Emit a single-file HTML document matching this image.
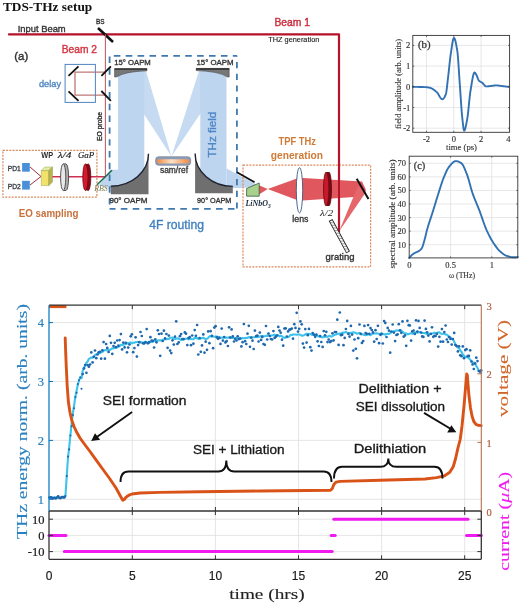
<!DOCTYPE html>
<html><head><meta charset="utf-8"><title>TDS-THz setup</title>
<style>html,body{margin:0;padding:0;background:#fff;} svg{display:block;filter:blur(0.3px);}</style></head>
<body><svg width="520" height="605" viewBox="0 0 520 605">
<rect width="520" height="605" fill="#fff"/>
<polygon points="116.00,71.00 146.00,71.00 171.50,156.50" fill="#c6dbf1"/>
<polygon points="199.00,71.00 229.00,71.00 171.50,156.50" fill="#c6dbf1"/>
<rect x="118.1" y="70" width="26.2" height="120" fill="#bdd5ee"/>
<rect x="200.3" y="70" width="26.2" height="120" fill="#bdd5ee"/>
<polygon points="118.10,169.80 118.10,188.00 110.00,188.00 99.00,185.50 110.00,169.80" fill="#bdd5ee"/>
<polygon points="226.50,160.00 226.50,188.00 240.00,188.00 256.00,187.00 256.50,184.50 226.50,168.50" fill="#bdd5ee"/>
<path d="M148.5,153.8 A37.7,32.4 0 0 1 110.8,186.2 L110.8,194.2 L148.5,194.2 Z" fill="#6f6f6f"/>
<path d="M148.5,153.8 A37.7,32.4 0 0 1 110.8,186.2" fill="none" stroke="#1e2230" stroke-width="1.4"/>
<path d="M195.1,153.5 A37.7,32.9 0 0 0 232.8,186.4 L232.8,193.2 L195.1,193.2 Z" fill="#6f6f6f"/>
<path d="M195.1,153.5 A37.7,32.9 0 0 0 232.8,186.4" fill="none" stroke="#1e2230" stroke-width="1.4"/>
<path d="M114.6,68.6 L147,68.6 L147,70.8 Q125,71.5 116.5,77 L114.6,77 Z" fill="#777" stroke="#333" stroke-width="0.5"/>
<line x1="114.60" y1="69.20" x2="147.00" y2="69.20" stroke="#2a2a2a" stroke-width="1.3"/>
<path d="M196.2,68.4 L229.2,68.4 L229.2,77 L227.5,77 Q219,71.3 196.2,70.6 Z" fill="#777" stroke="#333" stroke-width="0.5"/>
<line x1="196.20" y1="69.00" x2="229.20" y2="69.00" stroke="#2a2a2a" stroke-width="1.3"/>
<defs><linearGradient id="og" x1="0" x2="1" y1="0" y2="0"><stop offset="0" stop-color="#f08a40"/><stop offset="0.45" stop-color="#ffe2c8"/><stop offset="1" stop-color="#f08a40"/></linearGradient></defs>
<rect x="155.6" y="156.7" width="35.1" height="8.6" rx="3" fill="#8d9db5" stroke="#6a7890" stroke-width="0.6"/>
<rect x="157" y="159.2" width="32.3" height="4.2" rx="1.8" fill="url(#og)"/>
<text x="160.00" y="173.40" font-size="8.5" fill="#333" font-family='"Liberation Sans", Arial, sans-serif' stroke="#333" stroke-width="0.3" textLength="28" lengthAdjust="spacingAndGlyphs">sam/ref</text>
<line x1="109.60" y1="55.80" x2="236.90" y2="55.80" stroke="#3f79ad" stroke-width="1.8" stroke-dasharray="6.6 5.3" stroke-dashoffset="7.7"/>
<line x1="109.60" y1="208.80" x2="236.90" y2="208.80" stroke="#3f79ad" stroke-width="1.8" stroke-dasharray="6.6 5.3" stroke-dashoffset="0.7"/>
<line x1="109.60" y1="55.80" x2="109.60" y2="208.80" stroke="#3f79ad" stroke-width="1.8" stroke-dasharray="6.4 5.4" stroke-dashoffset="11"/>
<line x1="236.90" y1="55.80" x2="236.90" y2="208.80" stroke="#3f79ad" stroke-width="1.8" stroke-dasharray="6.2 5.5" stroke-dashoffset="5.5"/>
<text x="114.20" y="65.00" font-size="7.8" fill="#333" font-family='"Liberation Sans", Arial, sans-serif' stroke="#333" stroke-width="0.328" textLength="36.6" lengthAdjust="spacingAndGlyphs">15° OAPM</text>
<text x="196.50" y="65.00" font-size="7.8" fill="#333" font-family='"Liberation Sans", Arial, sans-serif' stroke="#333" stroke-width="0.328" textLength="37" lengthAdjust="spacingAndGlyphs">15° OAPM</text>
<text x="109.40" y="203.40" font-size="7.8" fill="#333" font-family='"Liberation Sans", Arial, sans-serif' stroke="#333" stroke-width="0.328" textLength="38.2" lengthAdjust="spacingAndGlyphs">90° OAPM</text>
<text x="197.10" y="203.30" font-size="7.8" fill="#333" font-family='"Liberation Sans", Arial, sans-serif' stroke="#333" stroke-width="0.328" textLength="34.3" lengthAdjust="spacingAndGlyphs">90° OAPM</text>
<text x="149.20" y="228.50" font-size="12.5" fill="#3f7fc0" font-family='"Liberation Sans", Arial, sans-serif' stroke="#3f7fc0" stroke-width="0.33" textLength="54.8" lengthAdjust="spacingAndGlyphs">4F routing</text>
<text x="216.00" y="157.50" font-size="11" fill="#4f86c6" font-family='"Liberation Sans", Arial, sans-serif' stroke="#4f86c6" stroke-width="0.33" textLength="45.7" lengthAdjust="spacingAndGlyphs" transform="rotate(-90 216.00 157.50)">THz field</text>
<polyline points="9.00,34.40 339.00,34.40 339.00,231.50" fill="none" stroke="#b5122b" stroke-width="2.2" stroke-linejoin="round" stroke-linecap="round" stroke-linecap="butt"/>
<text x="17.70" y="31.60" font-size="9" fill="#333" font-family='"Liberation Sans", Arial, sans-serif' stroke="#333" stroke-width="0.33" textLength="48" lengthAdjust="spacingAndGlyphs">Input Beam</text>
<text x="96.10" y="23.60" font-size="7.6" fill="#2a2a2a" font-family='"Liberation Sans", Arial, sans-serif' stroke="#2a2a2a" stroke-width="0.319" textLength="8.5" lengthAdjust="spacingAndGlyphs">BS</text>
<line x1="98.00" y1="28.00" x2="113.00" y2="42.00" stroke="#111" stroke-width="2.6"/>
<text x="61.80" y="53.00" font-size="10.5" fill="#d63844" font-family='"Liberation Sans", Arial, sans-serif' stroke="#d63844" stroke-width="0.42" textLength="35.2" lengthAdjust="spacingAndGlyphs">Beam 2</text>
<text x="274.50" y="26.30" font-size="10.5" fill="#cc3040" font-family='"Liberation Sans", Arial, sans-serif' stroke="#cc3040" stroke-width="0.42" textLength="35.5" lengthAdjust="spacingAndGlyphs">Beam 1</text>
<text x="268.30" y="41.70" font-size="7" fill="#1a1a1a" font-family='"Liberation Sans", Arial, sans-serif' stroke="#1a1a1a" stroke-width="0.12" textLength="51" lengthAdjust="spacingAndGlyphs">THZ generation</text>
<text x="14.30" y="59.60" font-size="11.5" fill="#333" font-family='"Liberation Sans", Arial, sans-serif' stroke="#333" stroke-width="0.42" textLength="13.9" lengthAdjust="spacingAndGlyphs">(a)</text>
<text x="2.90" y="11.20" font-size="13.4" fill="#111" font-family='"Liberation Serif", "Times New Roman", serif' font-weight="bold" textLength="89.4" lengthAdjust="spacingAndGlyphs">TDS-THz setup</text>
<line x1="105.40" y1="34.40" x2="105.40" y2="177.00" stroke="#c0606a" stroke-width="1.1"/>
<path d="M105.4,72.2 H75 V95.1 H105.4" fill="none" stroke="#c07878" stroke-width="1.3"/>
<rect x="65.1" y="64.4" width="30.3" height="38" fill="none" stroke="#4f86c0" stroke-width="1"/>
<text x="39.00" y="87.00" font-size="9" fill="#4f86c0" font-family='"Liberation Sans", Arial, sans-serif' stroke="#4f86c0" stroke-width="0.33" textLength="22" lengthAdjust="spacingAndGlyphs">delay</text>
<line x1="68.50" y1="75.90" x2="78.50" y2="66.40" stroke="#111" stroke-width="1.8"/>
<line x1="68.50" y1="91.30" x2="78.50" y2="100.80" stroke="#111" stroke-width="1.8"/>
<line x1="101.40" y1="75.90" x2="110.90" y2="66.40" stroke="#111" stroke-width="1.8"/>
<line x1="101.40" y1="91.00" x2="110.90" y2="100.80" stroke="#111" stroke-width="1.8"/>
<text x="101.60" y="140.90" font-size="6.5" fill="#222" font-family='"Liberation Sans", Arial, sans-serif' stroke="#222" stroke-width="0.273" textLength="29" lengthAdjust="spacingAndGlyphs" transform="rotate(-90 101.60 140.90)">EO probe</text>
<rect x="2.9" y="150.4" width="94" height="46.8" fill="none" stroke="#d88a60" stroke-width="1.2" stroke-dasharray="2 1.2"/>
<text x="18.70" y="217.00" font-size="10.2" fill="#c8703a" font-family='"Liberation Sans", Arial, sans-serif' font-weight="bold" textLength="59.8" lengthAdjust="spacingAndGlyphs">EO sampling</text>
<line x1="30.00" y1="167.00" x2="41.00" y2="176.50" stroke="#a03040" stroke-width="1"/>
<line x1="30.00" y1="185.00" x2="41.00" y2="176.50" stroke="#a03040" stroke-width="1"/>
<line x1="52.00" y1="176.80" x2="105.40" y2="176.80" stroke="#d03050" stroke-width="1.4"/>
<rect x="22.1" y="163" width="7.7" height="8.7" fill="#4a90d9"/>
<rect x="22.1" y="180.8" width="7.7" height="8.8" fill="#4a90d9"/>
<text x="7.70" y="170.50" font-size="7.5" fill="#3a4048" font-family='"Liberation Sans", Arial, sans-serif' stroke="#3a4048" stroke-width="0.35" textLength="13" lengthAdjust="spacingAndGlyphs">PD1</text>
<text x="7.70" y="188.50" font-size="7.5" fill="#3a4048" font-family='"Liberation Sans", Arial, sans-serif' stroke="#3a4048" stroke-width="0.35" textLength="13" lengthAdjust="spacingAndGlyphs">PD2</text>
<path d="M41.3,170.6 L48.8,170.6 L48.8,185.6 L41.3,185.6 Z" fill="#f2e26a" stroke="#8a8a40" stroke-width="0.4"/>
<path d="M41.3,170.6 L44.8,167 L52.5,167 L48.8,170.6 Z" fill="#e4eea0" stroke="#8a8a40" stroke-width="0.4"/>
<path d="M48.8,170.6 L52.5,167 L52.5,182 L48.8,185.6 Z" fill="#b9b450" stroke="#8a8a40" stroke-width="0.4"/>
<text x="41.30" y="158.30" font-size="8.5" fill="#2a2a2a" font-family='"Liberation Sans", Arial, sans-serif' font-weight="bold" textLength="11.8" lengthAdjust="spacingAndGlyphs">WP</text>
<ellipse cx="66" cy="177.2" rx="2.6" ry="13.3" fill="#b0b0b0" stroke="#444" stroke-width="0.9"/>
<rect x="63.2" y="163.9" width="2.8" height="26.6" fill="#b0b0b0"/>
<line x1="63.2" y1="163.9" x2="66" y2="163.9" stroke="#444" stroke-width="0.9"/><line x1="63.2" y1="190.5" x2="66" y2="190.5" stroke="#444" stroke-width="0.9"/>
<ellipse cx="63.2" cy="177.2" rx="2.6" ry="13.3" fill="#e8e8e8" stroke="#444" stroke-width="0.9"/>
<text x="57.70" y="158.00" font-size="8.5" fill="#222" font-family='"Liberation Serif", "Times New Roman", serif' stroke="#222" stroke-width="0.15" font-style="italic" textLength="13.8" lengthAdjust="spacingAndGlyphs">λ/4</text>
<ellipse cx="88.2" cy="177.2" rx="2.6" ry="13.3" fill="#8a0a18" stroke="#600810" stroke-width="0.8"/>
<rect x="85.4" y="163.9" width="2.8" height="26.6" fill="#8a0a18"/>
<ellipse cx="85.4" cy="177.2" rx="2.6" ry="13.3" fill="#d41a2e" stroke="#700810" stroke-width="0.8"/>
<text x="77.90" y="158.00" font-size="8.5" fill="#222" font-family='"Liberation Serif", "Times New Roman", serif' stroke="#222" stroke-width="0.15" font-style="italic" textLength="16.3" lengthAdjust="spacingAndGlyphs">GaP</text>
<line x1="97.10" y1="184.70" x2="112.00" y2="170.20" stroke="#1f6f4f" stroke-width="1.6"/>
<text x="94.20" y="190.90" font-size="7.5" fill="#7a7a50" font-family='"Liberation Serif", "Times New Roman", serif' font-style="italic" textLength="13.6" lengthAdjust="spacingAndGlyphs">RBS</text>
<rect x="243" y="165.2" width="127.6" height="101.7" fill="none" stroke="#dd8a5c" stroke-width="1.2" stroke-dasharray="2 1.2"/>
<text x="278.50" y="145.00" font-size="10.5" fill="#cf7a36" font-family='"Liberation Sans", Arial, sans-serif' font-weight="bold" textLength="37.5" lengthAdjust="spacingAndGlyphs">TPF THz</text>
<text x="270.80" y="158.50" font-size="10.5" fill="#cf7a36" font-family='"Liberation Sans", Arial, sans-serif' font-weight="bold" textLength="52.2" lengthAdjust="spacingAndGlyphs">generation</text>
<polygon points="259.00,185.20 267.70,189.00 259.00,194.50" fill="#e0585e"/>
<polygon points="267.70,189.00 299.00,177.70 299.00,200.80" fill="#e0585e"/>
<polygon points="299.00,177.70 362.00,181.50 366.00,190.00 362.00,196.50 299.00,200.80" fill="#e0585e"/>
<polygon points="358.00,186.00 366.00,192.00 339.00,231.50" fill="#e5666b"/>
<ellipse cx="299.5" cy="190.3" rx="3.2" ry="22.6" fill="#fff" stroke="#3a5a80" stroke-width="0.9"/>
<text x="292.30" y="222.30" font-size="9" fill="#333" font-family='"Liberation Sans", Arial, sans-serif' stroke="#333" stroke-width="0.33" textLength="16.2" lengthAdjust="spacingAndGlyphs">lens</text>
<ellipse cx="328.8" cy="189" rx="2.7" ry="17" fill="#7a0a14" stroke="#5a0810" stroke-width="0.8"/>
<rect x="326.2" y="172" width="2.6" height="34" fill="#7a0a14"/>
<ellipse cx="326.2" cy="189" rx="2.7" ry="17" fill="#c8182a" stroke="#6a0810" stroke-width="0.8"/>
<text x="320.00" y="216.30" font-size="8" fill="#222" font-family='"Liberation Serif", "Times New Roman", serif' font-style="italic" textLength="13" lengthAdjust="spacingAndGlyphs">λ/2</text>
<line x1="339.00" y1="34.40" x2="339.00" y2="231.50" stroke="#b5122b" stroke-width="2"/>
<line x1="356.70" y1="178.70" x2="368.50" y2="199.10" stroke="#111" stroke-width="2"/>
<g transform="rotate(61.5 339.4 236.2)"><rect x="321.5" y="234.6" width="35.8" height="3.3" fill="#fff" stroke="#222" stroke-width="0.9"/><path d="M323,237.9 L325,234.6 M326,237.9 L328,234.6 M329,237.9 L331,234.6 M332,237.9 L334,234.6 M335,237.9 L337,234.6 M338,237.9 L340,234.6 M341,237.9 L343,234.6 M344,237.9 L346,234.6 M347,237.9 L349,234.6 M350,237.9 L352,234.6 M353,237.9 L355,234.6" stroke="#555" stroke-width="0.5"/></g>
<text x="325.50" y="260.40" font-size="9" fill="#333" font-family='"Liberation Sans", Arial, sans-serif' stroke="#333" stroke-width="0.33" textLength="29" lengthAdjust="spacingAndGlyphs">grating</text>
<line x1="236.90" y1="172.30" x2="254.60" y2="182.30" stroke="#111" stroke-width="1.8"/>
<path d="M246.6,188.5 L259.2,183 L259.2,196.2 L246.6,196.2 Z" fill="#a9d18e" stroke="#3a5a40" stroke-width="0.8"/>
<text x="245.4" y="206" font-size="8" fill="#1a2a3a" font-family='"Liberation Serif", "Times New Roman", serif' font-style="italic" font-weight="bold">LiNbO<tspan font-size="5.5" dy="1.8">3</tspan></text>
<line x1="426.50" y1="35.40" x2="426.50" y2="132.30" stroke="#dedede" stroke-width="0.7"/>
<line x1="453.80" y1="35.40" x2="453.80" y2="132.30" stroke="#dedede" stroke-width="0.7"/>
<line x1="481.10" y1="35.40" x2="481.10" y2="132.30" stroke="#dedede" stroke-width="0.7"/>
<line x1="412.80" y1="128.20" x2="509.60" y2="128.20" stroke="#dedede" stroke-width="0.7"/>
<line x1="412.80" y1="107.50" x2="509.60" y2="107.50" stroke="#dedede" stroke-width="0.7"/>
<line x1="412.80" y1="86.80" x2="509.60" y2="86.80" stroke="#dedede" stroke-width="0.7"/>
<line x1="412.80" y1="66.10" x2="509.60" y2="66.10" stroke="#dedede" stroke-width="0.7"/>
<line x1="412.80" y1="45.40" x2="509.60" y2="45.40" stroke="#dedede" stroke-width="0.7"/>
<polyline points="412.85,86.80 413.09,86.80 413.33,86.81 413.57,86.81 413.81,86.82 414.05,86.82 414.29,86.83 414.53,86.83 414.77,86.84 415.01,86.84 415.24,86.85 415.48,86.85 415.72,86.86 415.96,86.87 416.20,86.87 416.44,86.88 416.68,86.88 416.92,86.89 417.16,86.90 417.40,86.90 417.64,86.91 417.88,86.91 418.12,86.92 418.36,86.93 418.60,86.93 418.84,86.94 419.08,86.95 419.32,86.96 419.56,86.96 419.79,86.97 420.03,86.98 420.27,86.98 420.51,86.99 420.75,87.00 420.99,87.01 421.23,87.01 421.47,87.02 421.71,87.03 421.95,87.03 422.19,87.04 422.43,87.05 422.67,87.05 422.91,87.06 423.15,87.07 423.39,87.07 423.63,87.08 423.87,87.09 424.11,87.10 424.34,87.11 424.58,87.12 424.82,87.13 425.06,87.14 425.30,87.15 425.54,87.16 425.78,87.17 426.02,87.18 426.26,87.20 426.50,87.21 426.74,87.23 426.98,87.25 427.22,87.28 427.46,87.31 427.70,87.34 427.94,87.38 428.18,87.42 428.42,87.46 428.66,87.51 428.89,87.56 429.13,87.61 429.37,87.67 429.61,87.73 429.85,87.78 430.09,87.85 430.33,87.91 430.57,87.99 430.81,88.08 431.05,88.17 431.29,88.27 431.53,88.38 431.77,88.50 432.01,88.63 432.25,88.76 432.49,88.89 432.73,89.04 432.97,89.19 433.21,89.34 433.44,89.50 433.68,89.67 433.92,89.84 434.16,90.01 434.40,90.19 434.64,90.38 434.88,90.56 435.12,90.75 435.36,90.94 435.60,91.14 435.84,91.34 436.08,91.53 436.32,91.74 436.56,91.94 436.80,92.16 437.04,92.41 437.28,92.70 437.52,93.02 437.76,93.36 437.99,93.73 438.23,94.11 438.47,94.51 438.71,94.92 438.95,95.33 439.19,95.74 439.43,96.15 439.67,96.54 439.91,96.93 440.15,97.30 440.39,97.65 440.63,97.98 440.87,98.28 441.11,98.54 441.35,98.77 441.59,98.95 441.83,99.09 442.07,99.18 442.31,99.22 442.54,99.20 442.78,99.12 443.02,98.99 443.26,98.80 443.50,98.57 443.74,98.29 443.98,97.97 444.22,97.60 444.46,97.20 444.70,96.75 444.94,96.28 445.18,95.77 445.42,95.24 445.66,94.67 445.90,94.01 446.14,92.97 446.38,91.60 446.62,89.94 446.86,88.07 447.09,86.04 447.33,83.90 447.57,81.72 447.81,79.57 448.05,77.49 448.29,75.52 448.53,73.46 448.77,71.29 449.01,69.04 449.25,66.76 449.49,64.48 449.73,62.24 449.97,60.09 450.21,58.06 450.45,56.20 450.69,54.54 450.93,52.93 451.17,51.28 451.41,49.60 451.64,47.93 451.88,46.30 452.12,44.74 452.36,43.27 452.60,41.92 452.84,40.72 453.08,39.70 453.32,38.89 453.56,38.31 453.80,38.00 454.04,37.97 454.28,38.13 454.52,38.47 454.76,38.97 455.00,39.61 455.24,40.39 455.48,41.30 455.72,42.32 455.96,43.44 456.19,44.65 456.43,45.94 456.67,47.30 456.91,48.72 457.15,50.18 457.39,51.68 457.63,53.62 457.87,56.11 458.11,59.06 458.35,62.37 458.59,65.94 458.83,69.67 459.07,73.47 459.31,77.23 459.55,80.86 459.79,84.26 460.03,87.57 460.27,91.04 460.51,94.60 460.74,98.18 460.98,101.74 461.22,105.20 461.46,108.51 461.70,111.61 461.94,114.42 462.18,116.89 462.42,119.08 462.66,121.33 462.90,123.55 463.14,125.65 463.38,127.52 463.62,129.04 463.86,130.12 464.10,130.65 464.34,130.63 464.58,130.37 464.82,129.91 465.06,129.27 465.29,128.48 465.53,127.56 465.77,126.52 466.01,125.39 466.25,124.19 466.49,122.94 466.73,121.67 466.97,120.39 467.21,119.12 467.45,117.67 467.69,115.95 467.93,114.00 468.17,111.86 468.41,109.59 468.65,107.23 468.89,104.82 469.13,102.41 469.37,100.05 469.61,97.78 469.84,95.64 470.08,93.69 470.32,91.97 470.56,90.48 470.80,89.00 471.04,87.50 471.28,85.99 471.52,84.49 471.76,83.02 472.00,81.58 472.24,80.19 472.48,78.87 472.72,77.63 472.96,76.49 473.20,75.46 473.44,74.57 473.68,73.81 473.92,73.22 474.16,72.79 474.39,72.56 474.63,72.53 474.87,72.64 475.11,72.86 475.35,73.17 475.59,73.55 475.83,73.95 476.07,74.37 476.31,74.77 476.55,75.21 476.79,75.74 477.03,76.33 477.27,76.97 477.51,77.63 477.75,78.28 477.99,78.89 478.23,79.45 478.47,79.93 478.71,80.29 478.94,80.56 479.18,80.79 479.42,81.00 479.66,81.19 479.90,81.36 480.14,81.52 480.38,81.66 480.62,81.80 480.86,81.94 481.10,82.07 481.34,82.21 481.58,82.35 481.82,82.50 482.06,82.66 482.30,82.84 482.54,83.05 482.78,83.28 483.02,83.53 483.26,83.81 483.49,84.10 483.73,84.39 483.97,84.69 484.21,84.97 484.45,85.25 484.69,85.51 484.93,85.75 485.17,85.96 485.41,86.13 485.65,86.27 485.89,86.35 486.13,86.39 486.37,86.38 486.61,86.38 486.85,86.37 487.09,86.36 487.33,86.35 487.57,86.33 487.81,86.31 488.04,86.29 488.28,86.27 488.52,86.25 488.76,86.22 489.00,86.20 489.24,86.17 489.48,86.15 489.72,86.12 489.96,86.09 490.20,86.06 490.44,86.04 490.68,86.01 490.92,85.99 491.16,85.96 491.40,85.94 491.64,85.90 491.88,85.87 492.12,85.84 492.36,85.80 492.59,85.76 492.83,85.72 493.07,85.68 493.31,85.64 493.55,85.60 493.79,85.57 494.03,85.53 494.27,85.50 494.51,85.46 494.75,85.44 494.99,85.41 495.23,85.39 495.47,85.37 495.71,85.36 495.95,85.35 496.19,85.35 496.43,85.36 496.67,85.36 496.91,85.38 497.14,85.40 497.38,85.42 497.62,85.44 497.86,85.47 498.10,85.50 498.34,85.53 498.58,85.57 498.82,85.60 499.06,85.64 499.30,85.68 499.54,85.71 499.78,85.75 500.02,85.79 500.26,85.83 500.50,85.86 500.74,85.90 500.98,85.93 501.22,85.96 501.46,85.99 501.69,86.02 501.93,86.05 502.17,86.07 502.41,86.10 502.65,86.13 502.89,86.16 503.13,86.19 503.37,86.22 503.61,86.24 503.85,86.27 504.09,86.30 504.33,86.33 504.57,86.36 504.81,86.38 505.05,86.41 505.29,86.44 505.53,86.47 505.77,86.50 506.01,86.52 506.24,86.55 506.48,86.58 506.72,86.61 506.96,86.63 507.20,86.66 507.44,86.69 507.68,86.72 507.92,86.74 508.16,86.77 508.40,86.80" fill="none" stroke="#3272b2" stroke-width="1.9" stroke-linejoin="round" stroke-linecap="round"/>
<rect x="412.8" y="35.4" width="96.80" height="96.90" fill="none" stroke="#333333" stroke-width="0.9"/>
<line x1="426.50" y1="132.30" x2="426.50" y2="130.80" stroke="#333333" stroke-width="0.7"/>
<line x1="426.50" y1="35.40" x2="426.50" y2="36.90" stroke="#333333" stroke-width="0.7"/>
<line x1="453.80" y1="132.30" x2="453.80" y2="130.80" stroke="#333333" stroke-width="0.7"/>
<line x1="453.80" y1="35.40" x2="453.80" y2="36.90" stroke="#333333" stroke-width="0.7"/>
<line x1="481.10" y1="132.30" x2="481.10" y2="130.80" stroke="#333333" stroke-width="0.7"/>
<line x1="481.10" y1="35.40" x2="481.10" y2="36.90" stroke="#333333" stroke-width="0.7"/>
<line x1="412.80" y1="128.20" x2="414.30" y2="128.20" stroke="#333333" stroke-width="0.7"/>
<line x1="509.60" y1="128.20" x2="508.10" y2="128.20" stroke="#333333" stroke-width="0.7"/>
<line x1="412.80" y1="107.50" x2="414.30" y2="107.50" stroke="#333333" stroke-width="0.7"/>
<line x1="509.60" y1="107.50" x2="508.10" y2="107.50" stroke="#333333" stroke-width="0.7"/>
<line x1="412.80" y1="86.80" x2="414.30" y2="86.80" stroke="#333333" stroke-width="0.7"/>
<line x1="509.60" y1="86.80" x2="508.10" y2="86.80" stroke="#333333" stroke-width="0.7"/>
<line x1="412.80" y1="66.10" x2="414.30" y2="66.10" stroke="#333333" stroke-width="0.7"/>
<line x1="509.60" y1="66.10" x2="508.10" y2="66.10" stroke="#333333" stroke-width="0.7"/>
<line x1="412.80" y1="45.40" x2="414.30" y2="45.40" stroke="#333333" stroke-width="0.7"/>
<line x1="509.60" y1="45.40" x2="508.10" y2="45.40" stroke="#333333" stroke-width="0.7"/>
<text x="410.30" y="48.40" font-size="8.5" fill="#333" font-family='"Liberation Serif", "Times New Roman", serif' stroke="#333" stroke-width="0.15" text-anchor="end">2</text>
<text x="410.30" y="69.10" font-size="8.5" fill="#333" font-family='"Liberation Serif", "Times New Roman", serif' stroke="#333" stroke-width="0.15" text-anchor="end">1</text>
<text x="410.30" y="89.80" font-size="8.5" fill="#333" font-family='"Liberation Serif", "Times New Roman", serif' stroke="#333" stroke-width="0.15" text-anchor="end">0</text>
<text x="410.30" y="110.50" font-size="8.5" fill="#333" font-family='"Liberation Serif", "Times New Roman", serif' stroke="#333" stroke-width="0.15" text-anchor="end">-1</text>
<text x="410.30" y="131.20" font-size="8.5" fill="#333" font-family='"Liberation Serif", "Times New Roman", serif' stroke="#333" stroke-width="0.15" text-anchor="end">-2</text>
<text x="426.50" y="142.30" font-size="8.5" fill="#333" font-family='"Liberation Serif", "Times New Roman", serif' stroke="#333" stroke-width="0.15" text-anchor="middle">-2</text>
<text x="453.80" y="142.30" font-size="8.5" fill="#333" font-family='"Liberation Serif", "Times New Roman", serif' stroke="#333" stroke-width="0.15" text-anchor="middle">0</text>
<text x="481.10" y="142.30" font-size="8.5" fill="#333" font-family='"Liberation Serif", "Times New Roman", serif' stroke="#333" stroke-width="0.15" text-anchor="middle">2</text>
<text x="508.40" y="142.30" font-size="8.5" fill="#333" font-family='"Liberation Serif", "Times New Roman", serif' stroke="#333" stroke-width="0.15" text-anchor="middle">4</text>
<text x="461.50" y="150.00" font-size="8" fill="#333" font-family='"Liberation Serif", "Times New Roman", serif' stroke="#333" stroke-width="0.12" text-anchor="middle" textLength="31" lengthAdjust="spacingAndGlyphs">time (ps)</text>
<text x="401.00" y="129.00" font-size="7.2" fill="#333" font-family='"Liberation Serif", "Times New Roman", serif' stroke="#333" stroke-width="0.12" textLength="90" lengthAdjust="spacingAndGlyphs" transform="rotate(-90 401.00 129.00)">field amplitude (arb. units)</text>
<text x="418.00" y="48.30" font-size="10" fill="#333" font-family='"Liberation Serif", "Times New Roman", serif' stroke="#333" stroke-width="0.25" textLength="12.5" lengthAdjust="spacingAndGlyphs">(b)</text>
<line x1="450.60" y1="156.20" x2="450.60" y2="257.90" stroke="#dedede" stroke-width="0.7"/>
<line x1="491.80" y1="156.20" x2="491.80" y2="257.90" stroke="#dedede" stroke-width="0.7"/>
<line x1="409.20" y1="244.73" x2="517.80" y2="244.73" stroke="#dedede" stroke-width="0.7"/>
<line x1="409.20" y1="231.16" x2="517.80" y2="231.16" stroke="#dedede" stroke-width="0.7"/>
<line x1="409.20" y1="217.59" x2="517.80" y2="217.59" stroke="#dedede" stroke-width="0.7"/>
<line x1="409.20" y1="204.02" x2="517.80" y2="204.02" stroke="#dedede" stroke-width="0.7"/>
<line x1="409.20" y1="190.45" x2="517.80" y2="190.45" stroke="#dedede" stroke-width="0.7"/>
<line x1="409.20" y1="176.88" x2="517.80" y2="176.88" stroke="#dedede" stroke-width="0.7"/>
<line x1="409.20" y1="163.31" x2="517.80" y2="163.31" stroke="#dedede" stroke-width="0.7"/>
<polyline points="409.20,257.90 409.56,257.47 409.93,257.05 410.29,256.65 410.65,256.25 411.02,255.87 411.38,255.50 411.74,255.15 412.11,254.82 412.47,254.50 412.83,254.20 413.20,253.92 413.56,253.66 413.92,253.42 414.28,253.21 414.65,253.02 415.01,252.84 415.37,252.68 415.74,252.52 416.10,252.37 416.46,252.22 416.83,252.06 417.19,251.90 417.55,251.72 417.92,251.53 418.28,251.31 418.64,251.08 419.01,250.85 419.37,250.61 419.73,250.35 420.10,250.07 420.46,249.76 420.82,249.41 421.19,249.01 421.55,248.57 421.91,248.00 422.28,247.21 422.64,246.25 423.00,245.15 423.37,243.95 423.73,242.69 424.09,241.42 424.45,240.15 424.82,238.86 425.18,237.44 425.54,235.94 425.91,234.40 426.27,232.86 426.63,231.37 427.00,229.97 427.36,228.68 427.72,227.43 428.09,226.22 428.45,225.03 428.81,223.88 429.18,222.74 429.54,221.63 429.90,220.52 430.27,219.43 430.63,218.34 430.99,217.25 431.36,216.16 431.72,215.05 432.08,213.94 432.45,212.81 432.81,211.65 433.17,210.49 433.54,209.31 433.90,208.13 434.26,206.95 434.62,205.76 434.99,204.56 435.35,203.37 435.71,202.18 436.08,200.99 436.44,199.81 436.80,198.64 437.17,197.47 437.53,196.31 437.89,195.16 438.26,194.02 438.62,192.88 438.98,191.73 439.35,190.57 439.71,189.40 440.07,188.24 440.44,187.09 440.80,185.94 441.16,184.81 441.53,183.70 441.89,182.61 442.25,181.55 442.62,180.52 442.98,179.54 443.34,178.59 443.71,177.69 444.07,176.81 444.43,175.94 444.79,175.07 445.16,174.21 445.52,173.37 445.88,172.54 446.25,171.74 446.61,170.97 446.97,170.22 447.34,169.51 447.70,168.85 448.06,168.22 448.43,167.65 448.79,167.12 449.15,166.66 449.52,166.22 449.88,165.79 450.24,165.36 450.61,164.94 450.97,164.52 451.33,164.11 451.70,163.72 452.06,163.34 452.42,162.98 452.79,162.64 453.15,162.33 453.51,162.05 453.87,161.80 454.24,161.58 454.60,161.40 454.96,161.26 455.33,161.16 455.69,161.11 456.05,161.10 456.42,161.13 456.78,161.17 457.14,161.24 457.51,161.33 457.87,161.44 458.23,161.57 458.60,161.72 458.96,161.88 459.32,162.06 459.69,162.25 460.05,162.45 460.41,162.67 460.78,162.89 461.14,163.13 461.50,163.37 461.87,163.69 462.23,164.11 462.59,164.61 462.96,165.18 463.32,165.83 463.68,166.54 464.04,167.31 464.41,168.12 464.77,168.97 465.13,169.84 465.50,170.75 465.86,171.66 466.22,172.59 466.59,173.51 466.95,174.43 467.31,175.40 467.68,176.46 468.04,177.60 468.40,178.80 468.77,180.05 469.13,181.35 469.49,182.67 469.86,184.01 470.22,185.35 470.58,186.68 470.95,188.00 471.31,189.28 471.67,190.51 472.04,191.69 472.40,192.80 472.76,193.85 473.13,194.86 473.49,195.84 473.85,196.80 474.21,197.73 474.58,198.65 474.94,199.55 475.30,200.44 475.67,201.32 476.03,202.19 476.39,203.05 476.76,203.92 477.12,204.79 477.48,205.66 477.85,206.55 478.21,207.44 478.57,208.35 478.94,209.28 479.30,210.22 479.66,211.19 480.03,212.18 480.39,213.19 480.75,214.21 481.12,215.24 481.48,216.28 481.84,217.33 482.21,218.37 482.57,219.42 482.93,220.46 483.29,221.50 483.66,222.53 484.02,223.54 484.38,224.54 484.75,225.52 485.11,226.48 485.47,227.42 485.84,228.33 486.20,229.20 486.56,230.05 486.93,230.86 487.29,231.65 487.65,232.42 488.02,233.18 488.38,233.92 488.74,234.66 489.11,235.37 489.47,236.08 489.83,236.77 490.20,237.45 490.56,238.12 490.92,238.77 491.29,239.41 491.65,240.03 492.01,240.64 492.38,241.24 492.74,241.82 493.10,242.39 493.46,242.95 493.83,243.49 494.19,244.04 494.55,244.57 494.92,245.10 495.28,245.63 495.64,246.14 496.01,246.65 496.37,247.15 496.73,247.63 497.10,248.10 497.46,248.56 497.82,249.01 498.19,249.44 498.55,249.85 498.91,250.24 499.28,250.62 499.64,250.98 500.00,251.31 500.37,251.63 500.73,251.95 501.09,252.26 501.46,252.57 501.82,252.87 502.18,253.16 502.55,253.45 502.91,253.72 503.27,253.99 503.63,254.25 504.00,254.49 504.36,254.72 504.72,254.94 505.09,255.15 505.45,255.34 505.81,255.51 506.18,255.67 506.54,255.81 506.90,255.93 507.27,256.05 507.63,256.17 507.99,256.28 508.36,256.39 508.72,256.50 509.08,256.60 509.45,256.70 509.81,256.79 510.17,256.88 510.54,256.96 510.90,257.04 511.26,257.11 511.63,257.16 511.99,257.21 512.35,257.25 512.72,257.28 513.08,257.30 513.44,257.30 513.80,257.30 514.17,257.30 514.53,257.29 514.89,257.28 515.26,257.27 515.62,257.25 515.98,257.22 516.35,257.19 516.71,257.16 517.07,257.11 517.44,257.06 517.80,257.00" fill="none" stroke="#3272b2" stroke-width="1.9" stroke-linejoin="round" stroke-linecap="round"/>
<rect x="409.2" y="156.2" width="108.60" height="101.70" fill="none" stroke="#333333" stroke-width="0.9"/>
<line x1="450.60" y1="257.90" x2="450.60" y2="256.40" stroke="#333333" stroke-width="0.7"/>
<line x1="450.60" y1="156.20" x2="450.60" y2="157.70" stroke="#333333" stroke-width="0.7"/>
<line x1="491.80" y1="257.90" x2="491.80" y2="256.40" stroke="#333333" stroke-width="0.7"/>
<line x1="491.80" y1="156.20" x2="491.80" y2="157.70" stroke="#333333" stroke-width="0.7"/>
<line x1="409.20" y1="244.73" x2="410.70" y2="244.73" stroke="#333333" stroke-width="0.7"/>
<line x1="517.80" y1="244.73" x2="516.30" y2="244.73" stroke="#333333" stroke-width="0.7"/>
<text x="406.00" y="247.73" font-size="8.5" fill="#333" font-family='"Liberation Serif", "Times New Roman", serif' stroke="#333" stroke-width="0.15" text-anchor="end">10</text>
<line x1="409.20" y1="231.16" x2="410.70" y2="231.16" stroke="#333333" stroke-width="0.7"/>
<line x1="517.80" y1="231.16" x2="516.30" y2="231.16" stroke="#333333" stroke-width="0.7"/>
<text x="406.00" y="234.16" font-size="8.5" fill="#333" font-family='"Liberation Serif", "Times New Roman", serif' stroke="#333" stroke-width="0.15" text-anchor="end">20</text>
<line x1="409.20" y1="217.59" x2="410.70" y2="217.59" stroke="#333333" stroke-width="0.7"/>
<line x1="517.80" y1="217.59" x2="516.30" y2="217.59" stroke="#333333" stroke-width="0.7"/>
<text x="406.00" y="220.59" font-size="8.5" fill="#333" font-family='"Liberation Serif", "Times New Roman", serif' stroke="#333" stroke-width="0.15" text-anchor="end">30</text>
<line x1="409.20" y1="204.02" x2="410.70" y2="204.02" stroke="#333333" stroke-width="0.7"/>
<line x1="517.80" y1="204.02" x2="516.30" y2="204.02" stroke="#333333" stroke-width="0.7"/>
<text x="406.00" y="207.02" font-size="8.5" fill="#333" font-family='"Liberation Serif", "Times New Roman", serif' stroke="#333" stroke-width="0.15" text-anchor="end">40</text>
<line x1="409.20" y1="190.45" x2="410.70" y2="190.45" stroke="#333333" stroke-width="0.7"/>
<line x1="517.80" y1="190.45" x2="516.30" y2="190.45" stroke="#333333" stroke-width="0.7"/>
<text x="406.00" y="193.45" font-size="8.5" fill="#333" font-family='"Liberation Serif", "Times New Roman", serif' stroke="#333" stroke-width="0.15" text-anchor="end">50</text>
<line x1="409.20" y1="176.88" x2="410.70" y2="176.88" stroke="#333333" stroke-width="0.7"/>
<line x1="517.80" y1="176.88" x2="516.30" y2="176.88" stroke="#333333" stroke-width="0.7"/>
<text x="406.00" y="179.88" font-size="8.5" fill="#333" font-family='"Liberation Serif", "Times New Roman", serif' stroke="#333" stroke-width="0.15" text-anchor="end">60</text>
<line x1="409.20" y1="163.31" x2="410.70" y2="163.31" stroke="#333333" stroke-width="0.7"/>
<line x1="517.80" y1="163.31" x2="516.30" y2="163.31" stroke="#333333" stroke-width="0.7"/>
<text x="406.00" y="166.31" font-size="8.5" fill="#333" font-family='"Liberation Serif", "Times New Roman", serif' stroke="#333" stroke-width="0.15" text-anchor="end">70</text>
<text x="409.40" y="268.30" font-size="8.5" fill="#333" font-family='"Liberation Serif", "Times New Roman", serif' stroke="#333" stroke-width="0.15" text-anchor="middle">0</text>
<text x="450.60" y="268.30" font-size="8.5" fill="#333" font-family='"Liberation Serif", "Times New Roman", serif' stroke="#333" stroke-width="0.15" text-anchor="middle">0.5</text>
<text x="491.80" y="268.30" font-size="8.5" fill="#333" font-family='"Liberation Serif", "Times New Roman", serif' stroke="#333" stroke-width="0.15" text-anchor="middle">1</text>
<text x="462.00" y="277.50" font-size="8" fill="#333" font-family='"Liberation Serif", "Times New Roman", serif' stroke="#333" stroke-width="0.12" text-anchor="middle" textLength="26" lengthAdjust="spacingAndGlyphs">ω (THz)</text>
<text x="395.00" y="268.50" font-size="7.2" fill="#333" font-family='"Liberation Serif", "Times New Roman", serif' stroke="#333" stroke-width="0.12" textLength="109" lengthAdjust="spacingAndGlyphs" transform="rotate(-90 395.00 268.50)">spectral amplitude (arb. units)</text>
<text x="413.70" y="169.00" font-size="10" fill="#333" font-family='"Liberation Serif", "Times New Roman", serif' stroke="#333" stroke-width="0.25" textLength="11.5" lengthAdjust="spacingAndGlyphs">(c)</text>
<line x1="132.30" y1="305.20" x2="132.30" y2="511.00" stroke="#dedede" stroke-width="0.8"/>
<line x1="132.30" y1="511.00" x2="132.30" y2="559.30" stroke="#dedede" stroke-width="0.8"/>
<line x1="215.40" y1="305.20" x2="215.40" y2="511.00" stroke="#dedede" stroke-width="0.8"/>
<line x1="215.40" y1="511.00" x2="215.40" y2="559.30" stroke="#dedede" stroke-width="0.8"/>
<line x1="298.50" y1="305.20" x2="298.50" y2="511.00" stroke="#dedede" stroke-width="0.8"/>
<line x1="298.50" y1="511.00" x2="298.50" y2="559.30" stroke="#dedede" stroke-width="0.8"/>
<line x1="381.60" y1="305.20" x2="381.60" y2="511.00" stroke="#dedede" stroke-width="0.8"/>
<line x1="381.60" y1="511.00" x2="381.60" y2="559.30" stroke="#dedede" stroke-width="0.8"/>
<line x1="464.70" y1="305.20" x2="464.70" y2="511.00" stroke="#dedede" stroke-width="0.8"/>
<line x1="464.70" y1="511.00" x2="464.70" y2="559.30" stroke="#dedede" stroke-width="0.8"/>
<line x1="49.00" y1="499.30" x2="481.30" y2="499.30" stroke="#dedede" stroke-width="0.8"/>
<line x1="49.00" y1="440.40" x2="481.30" y2="440.40" stroke="#dedede" stroke-width="0.8"/>
<line x1="49.00" y1="381.50" x2="481.30" y2="381.50" stroke="#dedede" stroke-width="0.8"/>
<line x1="49.00" y1="322.60" x2="481.30" y2="322.60" stroke="#dedede" stroke-width="0.8"/>
<line x1="49.00" y1="519.20" x2="481.30" y2="519.20" stroke="#dedede" stroke-width="0.8"/>
<line x1="49.00" y1="535.40" x2="481.30" y2="535.40" stroke="#dedede" stroke-width="0.8"/>
<line x1="49.00" y1="551.60" x2="481.30" y2="551.60" stroke="#dedede" stroke-width="0.8"/>
<polyline points="49.53,497.53 50.76,497.45 51.99,497.61 53.22,497.77 54.45,497.65 55.68,497.80 56.91,497.52 58.14,497.18 59.37,497.66 60.60,497.70 61.83,497.40 63.06,497.44 64.29,497.51 65.52,494.56 66.75,476.00 67.98,457.79 69.21,447.21 70.44,434.78 71.67,423.16 72.90,413.01 74.13,405.29 75.36,396.69 76.59,390.67 77.82,384.51 79.05,380.45 80.28,377.15 81.51,378.30 82.74,370.83 83.97,367.73 85.20,365.42 86.43,362.81 87.66,361.52 88.89,358.80 90.12,358.38 91.35,357.46 92.58,357.63 93.81,356.65 95.04,355.18 96.27,354.28 97.50,353.96 98.73,352.90 99.96,353.14 101.19,352.34 102.42,351.91 103.65,350.66 104.88,350.15 106.11,350.33 107.34,349.46 108.57,349.83 109.80,350.03 111.03,349.23 112.26,348.30 113.49,348.36 114.72,347.99 115.95,347.71 117.18,347.47 118.41,346.73 119.64,346.26 120.87,344.90 122.10,344.93 123.33,344.88 124.56,344.13 125.78,344.20 127.01,343.49 128.24,342.95 129.47,342.84 130.70,342.45 131.93,343.26 133.16,342.80 134.39,342.73 135.62,342.06 136.85,341.92 138.08,341.96 139.31,342.38 140.54,342.16 141.77,342.37 143.00,342.45 144.23,342.25 145.46,341.64 146.69,342.43 147.92,342.32 149.15,342.42 150.38,342.02 151.61,341.96 152.84,341.70 154.07,341.12 155.30,340.73 156.53,341.33 157.76,340.43 158.99,340.27 160.22,340.35 161.45,340.54 162.68,339.87 163.91,339.61 165.14,339.16 166.37,339.33 167.60,338.91 168.83,339.00 170.06,337.81 171.29,337.69 172.52,337.52 173.75,338.60 174.98,338.95 176.21,338.70 177.44,338.32 178.67,338.72 179.90,339.24 181.13,340.09 182.36,339.10 183.59,339.55 184.82,338.91 186.05,338.77 187.28,338.62 188.51,339.33 189.74,339.03 190.97,339.04 192.20,339.25 193.43,339.22 194.66,337.75 195.89,338.08 197.12,337.97 198.35,339.09 199.58,338.79 200.81,338.66 202.04,338.07 203.27,337.69 204.50,338.64 205.73,338.96 206.96,338.79 208.19,337.91 209.42,336.41 210.65,336.28 211.88,336.54 213.11,336.51 214.34,336.68 215.57,336.50 216.80,336.48 218.03,336.84 219.26,337.09 220.49,337.84 221.72,337.66 222.95,337.41 224.18,337.64 225.41,337.75 226.64,337.53 227.87,337.70 229.09,337.17 230.32,337.39 231.55,337.86 232.78,337.91 234.01,338.34 235.24,338.27 236.47,337.99 237.70,338.69 238.93,338.42 240.16,338.42 241.39,338.46 242.62,338.07 243.85,338.22 245.08,338.05 246.31,337.89 247.54,337.97 248.77,337.09 250.00,337.58 251.23,337.52 252.46,337.38 253.69,337.25 254.92,337.25 256.15,336.63 257.38,337.15 258.61,336.73 259.84,336.65 261.07,336.04 262.30,335.96 263.53,336.25 264.76,336.27 265.99,335.83 267.22,335.86 268.45,335.10 269.68,335.85 270.91,335.71 272.14,335.35 273.37,335.08 274.60,334.71 275.83,335.20 277.06,335.05 278.29,335.26 279.52,336.31 280.75,335.55 281.98,336.33 283.21,337.27 284.44,337.90 285.67,337.47 286.90,336.98 288.13,337.22 289.36,336.46 290.59,334.82 291.82,334.98 293.05,334.47 294.28,334.44 295.51,334.44 296.74,334.75 297.97,334.43 299.20,334.47 300.43,334.75 301.66,335.65 302.89,335.61 304.12,335.21 305.35,334.47 306.58,333.75 307.81,333.74 309.04,334.00 310.27,333.88 311.50,334.64 312.73,334.96 313.96,334.69 315.19,334.97 316.42,335.06 317.65,336.13 318.88,336.40 320.11,336.50 321.34,336.96 322.57,337.43 323.80,336.90 325.03,336.75 326.26,336.56 327.49,336.90 328.72,336.22 329.95,335.76 331.17,336.59 332.40,336.29 333.63,335.17 334.86,334.75 336.09,334.42 337.32,334.10 338.55,333.73 339.78,333.58 341.01,333.55 342.24,332.66 343.47,332.61 344.70,332.45 345.93,331.93 347.16,332.64 348.39,333.09 349.62,333.11 350.85,332.69 352.08,332.99 353.31,332.18 354.54,332.52 355.77,332.93 357.00,333.76 358.23,333.36 359.46,332.91 360.69,333.56 361.92,334.43 363.15,334.26 364.38,335.07 365.61,335.26 366.84,334.76 368.07,334.46 369.30,334.55 370.53,335.12 371.76,334.10 372.99,333.81 374.22,333.48 375.45,333.55 376.68,333.26 377.91,333.56 379.14,334.00 380.37,333.89 381.60,333.57 382.83,334.30 384.06,334.14 385.29,334.66 386.52,333.89 387.75,333.74 388.98,333.93 390.21,333.11 391.44,332.43 392.67,331.68 393.90,331.22 395.13,331.08 396.36,330.26 397.59,330.60 398.82,330.65 400.05,330.36 401.28,330.58 402.51,331.71 403.74,333.06 404.97,333.58 406.20,333.34 407.43,334.17 408.66,334.12 409.89,333.59 411.12,333.34 412.35,333.60 413.58,333.04 414.81,332.71 416.04,332.26 417.27,332.90 418.50,332.14 419.73,332.09 420.96,332.49 422.19,332.95 423.42,333.02 424.65,333.10 425.88,333.56 427.11,334.03 428.34,334.01 429.57,333.69 430.80,333.54 432.03,333.52 433.25,333.32 434.48,332.64 435.71,333.23 436.94,332.98 438.17,332.33 439.40,332.24 440.63,333.25 441.86,334.12 443.09,333.64 444.32,333.60 445.55,334.57 446.78,334.64 448.01,335.76 449.24,336.52 450.47,337.57 451.70,338.67 452.93,339.39 454.16,341.59 455.39,344.28 456.62,345.73 457.85,347.61 459.08,348.34 460.31,350.34 461.54,351.94 462.77,354.55 464.00,355.78 465.23,356.83 466.46,356.91 467.69,357.38 468.92,358.13 470.15,359.73 471.38,360.85 472.61,362.20 473.84,362.52 475.07,364.00 476.30,365.91 477.53,368.11 478.76,370.59 479.99,372.21 481.22,372.99" fill="none" stroke="#3ec3ec" stroke-width="2.1" stroke-linejoin="round" stroke-linecap="round"/>
<g fill="#1f68ad"><circle cx="49.5" cy="497.5" r="1.35"/><circle cx="50.8" cy="497.3" r="1.35"/><circle cx="52.0" cy="497.8" r="1.35"/><circle cx="53.2" cy="498.3" r="1.35"/><circle cx="54.5" cy="497.9" r="1.35"/><circle cx="55.7" cy="498.4" r="1.35"/><circle cx="56.9" cy="497.5" r="1.35"/><circle cx="58.1" cy="496.3" r="1.35"/><circle cx="59.4" cy="498.0" r="1.35"/><circle cx="60.6" cy="498.1" r="1.35"/><circle cx="61.8" cy="497.1" r="1.35"/><circle cx="63.1" cy="497.2" r="1.35"/><circle cx="64.3" cy="497.4" r="1.35"/><circle cx="65.5" cy="496.1" r="1.05"/><circle cx="66.8" cy="476.1" r="1.05"/><circle cx="68.0" cy="456.6" r="1.05"/><circle cx="69.2" cy="449.4" r="1.05"/><circle cx="70.4" cy="435.5" r="1.05"/><circle cx="71.7" cy="426.3" r="1.05"/><circle cx="72.9" cy="415.1" r="1.05"/><circle cx="74.1" cy="408.3" r="1.05"/><circle cx="75.4" cy="397.1" r="1.05"/><circle cx="76.6" cy="392.8" r="1.05"/><circle cx="77.8" cy="384.1" r="1.05"/><circle cx="79.0" cy="380.2" r="1.05"/><circle cx="80.3" cy="377.5" r="1.05"/><circle cx="81.5" cy="388.7" r="1.05"/><circle cx="82.7" cy="374.1" r="1.35"/><circle cx="84.0" cy="368.4" r="1.35"/><circle cx="85.2" cy="365.1" r="1.35"/><circle cx="86.4" cy="372.8" r="1.35"/><circle cx="87.7" cy="365.1" r="1.35"/><circle cx="88.9" cy="366.7" r="1.35"/><circle cx="90.1" cy="364.5" r="1.35"/><circle cx="91.3" cy="352.4" r="1.35"/><circle cx="92.6" cy="362.4" r="1.35"/><circle cx="93.8" cy="356.8" r="1.35"/><circle cx="95.0" cy="350.5" r="1.35"/><circle cx="96.3" cy="358.2" r="1.35"/><circle cx="97.5" cy="354.5" r="1.35"/><circle cx="98.7" cy="352.3" r="1.35"/><circle cx="100.0" cy="351.8" r="1.35"/><circle cx="101.2" cy="358.7" r="1.35"/><circle cx="102.4" cy="350.3" r="1.35"/><circle cx="103.6" cy="342.1" r="1.35"/><circle cx="104.9" cy="358.7" r="1.35"/><circle cx="106.1" cy="344.0" r="1.35"/><circle cx="107.3" cy="347.9" r="1.35"/><circle cx="108.6" cy="351.9" r="1.35"/><circle cx="109.8" cy="335.9" r="1.35"/><circle cx="111.0" cy="342.8" r="1.35"/><circle cx="112.3" cy="353.9" r="1.35"/><circle cx="113.5" cy="346.1" r="1.35"/><circle cx="114.7" cy="342.8" r="1.35"/><circle cx="115.9" cy="347.2" r="1.35"/><circle cx="117.2" cy="340.5" r="1.35"/><circle cx="118.4" cy="345.7" r="1.35"/><circle cx="119.6" cy="340.1" r="1.35"/><circle cx="120.9" cy="334.1" r="1.35"/><circle cx="122.1" cy="349.4" r="1.35"/><circle cx="123.3" cy="342.7" r="1.35"/><circle cx="124.6" cy="347.4" r="1.35"/><circle cx="125.8" cy="342.8" r="1.35"/><circle cx="127.0" cy="352.3" r="1.35"/><circle cx="128.2" cy="347.6" r="1.35"/><circle cx="129.5" cy="344.5" r="1.35"/><circle cx="130.7" cy="336.3" r="1.35"/><circle cx="131.9" cy="334.3" r="1.35"/><circle cx="133.2" cy="352.2" r="1.35"/><circle cx="134.4" cy="348.1" r="1.35"/><circle cx="135.6" cy="337.3" r="1.35"/><circle cx="136.9" cy="356.6" r="1.35"/><circle cx="138.1" cy="345.1" r="1.35"/><circle cx="139.3" cy="342.2" r="1.35"/><circle cx="140.5" cy="332.0" r="1.35"/><circle cx="141.8" cy="336.0" r="1.35"/><circle cx="143.0" cy="343.3" r="1.35"/><circle cx="144.2" cy="343.4" r="1.35"/><circle cx="145.5" cy="342.3" r="1.35"/><circle cx="146.7" cy="329.1" r="1.35"/><circle cx="147.9" cy="343.3" r="1.35"/><circle cx="149.2" cy="342.2" r="1.35"/><circle cx="150.4" cy="337.2" r="1.35"/><circle cx="151.6" cy="340.5" r="1.35"/><circle cx="152.8" cy="340.9" r="1.35"/><circle cx="154.1" cy="347.5" r="1.35"/><circle cx="155.3" cy="339.3" r="1.35"/><circle cx="156.5" cy="342.3" r="1.35"/><circle cx="157.8" cy="330.3" r="1.35"/><circle cx="159.0" cy="334.0" r="1.35"/><circle cx="160.2" cy="355.8" r="1.35"/><circle cx="161.5" cy="333.7" r="1.35"/><circle cx="162.7" cy="341.0" r="1.35"/><circle cx="163.9" cy="330.7" r="1.35"/><circle cx="165.1" cy="338.4" r="1.35"/><circle cx="166.4" cy="334.0" r="1.35"/><circle cx="167.6" cy="347.8" r="1.35"/><circle cx="168.8" cy="335.6" r="1.35"/><circle cx="170.1" cy="350.6" r="1.35"/><circle cx="171.3" cy="353.1" r="1.35"/><circle cx="172.5" cy="340.3" r="1.35"/><circle cx="173.8" cy="344.6" r="1.35"/><circle cx="175.0" cy="336.7" r="1.35"/><circle cx="176.2" cy="321.3" r="1.35"/><circle cx="177.4" cy="344.0" r="1.35"/><circle cx="178.7" cy="342.4" r="1.35"/><circle cx="179.9" cy="336.2" r="1.35"/><circle cx="181.1" cy="334.1" r="1.35"/><circle cx="182.4" cy="339.0" r="1.35"/><circle cx="183.6" cy="339.1" r="1.35"/><circle cx="184.8" cy="332.4" r="1.35"/><circle cx="186.0" cy="333.7" r="1.35"/><circle cx="187.3" cy="345.1" r="1.35"/><circle cx="188.5" cy="338.1" r="1.35"/><circle cx="189.7" cy="337.2" r="1.35"/><circle cx="191.0" cy="345.2" r="1.35"/><circle cx="192.2" cy="335.5" r="1.35"/><circle cx="193.4" cy="343.7" r="1.35"/><circle cx="194.7" cy="330.1" r="1.35"/><circle cx="195.9" cy="335.8" r="1.35"/><circle cx="197.1" cy="325.0" r="1.35"/><circle cx="198.3" cy="354.5" r="1.35"/><circle cx="199.6" cy="338.0" r="1.35"/><circle cx="200.8" cy="351.8" r="1.35"/><circle cx="202.0" cy="345.4" r="1.35"/><circle cx="203.3" cy="334.4" r="1.35"/><circle cx="204.5" cy="352.7" r="1.35"/><circle cx="205.7" cy="341.7" r="1.35"/><circle cx="207.0" cy="349.8" r="1.35"/><circle cx="208.2" cy="331.4" r="1.35"/><circle cx="209.4" cy="343.2" r="1.35"/><circle cx="210.6" cy="331.2" r="1.35"/><circle cx="211.9" cy="335.9" r="1.35"/><circle cx="213.1" cy="348.2" r="1.35"/><circle cx="214.3" cy="327.6" r="1.35"/><circle cx="215.6" cy="326.2" r="1.35"/><circle cx="216.8" cy="337.3" r="1.35"/><circle cx="218.0" cy="338.8" r="1.35"/><circle cx="219.3" cy="337.9" r="1.35"/><circle cx="220.5" cy="343.9" r="1.35"/><circle cx="221.7" cy="328.6" r="1.35"/><circle cx="222.9" cy="340.6" r="1.35"/><circle cx="224.2" cy="337.0" r="1.35"/><circle cx="225.4" cy="342.4" r="1.35"/><circle cx="226.6" cy="341.2" r="1.35"/><circle cx="227.9" cy="346.0" r="1.35"/><circle cx="229.1" cy="327.3" r="1.35"/><circle cx="230.3" cy="337.6" r="1.35"/><circle cx="231.6" cy="329.4" r="1.35"/><circle cx="232.8" cy="336.4" r="1.35"/><circle cx="234.0" cy="341.5" r="1.35"/><circle cx="235.2" cy="338.8" r="1.35"/><circle cx="236.5" cy="340.5" r="1.35"/><circle cx="237.7" cy="336.3" r="1.35"/><circle cx="238.9" cy="339.1" r="1.35"/><circle cx="240.2" cy="338.5" r="1.35"/><circle cx="241.4" cy="346.4" r="1.35"/><circle cx="242.6" cy="342.2" r="1.35"/><circle cx="243.9" cy="324.1" r="1.35"/><circle cx="245.1" cy="341.2" r="1.35"/><circle cx="246.3" cy="344.0" r="1.35"/><circle cx="247.5" cy="333.7" r="1.35"/><circle cx="248.8" cy="325.8" r="1.35"/><circle cx="250.0" cy="346.8" r="1.35"/><circle cx="251.2" cy="337.6" r="1.35"/><circle cx="252.5" cy="340.7" r="1.35"/><circle cx="253.7" cy="349.0" r="1.35"/><circle cx="254.9" cy="330.6" r="1.35"/><circle cx="256.2" cy="336.2" r="1.35"/><circle cx="257.4" cy="335.5" r="1.35"/><circle cx="258.6" cy="341.5" r="1.35"/><circle cx="259.8" cy="332.6" r="1.35"/><circle cx="261.1" cy="339.9" r="1.35"/><circle cx="262.3" cy="336.9" r="1.35"/><circle cx="263.5" cy="344.0" r="1.35"/><circle cx="264.8" cy="344.8" r="1.35"/><circle cx="266.0" cy="326.0" r="1.35"/><circle cx="267.2" cy="339.5" r="1.35"/><circle cx="268.5" cy="333.6" r="1.35"/><circle cx="269.7" cy="336.0" r="1.35"/><circle cx="270.9" cy="339.0" r="1.35"/><circle cx="272.1" cy="339.5" r="1.35"/><circle cx="273.4" cy="331.1" r="1.35"/><circle cx="274.6" cy="337.9" r="1.35"/><circle cx="275.8" cy="336.8" r="1.35"/><circle cx="277.1" cy="335.5" r="1.35"/><circle cx="278.3" cy="326.9" r="1.35"/><circle cx="279.5" cy="330.6" r="1.35"/><circle cx="280.7" cy="332.7" r="1.35"/><circle cx="282.0" cy="339.7" r="1.35"/><circle cx="283.2" cy="345.7" r="1.35"/><circle cx="284.4" cy="328.5" r="1.35"/><circle cx="285.7" cy="328.4" r="1.35"/><circle cx="286.9" cy="336.5" r="1.35"/><circle cx="288.1" cy="331.4" r="1.35"/><circle cx="289.4" cy="329.7" r="1.35"/><circle cx="290.6" cy="329.3" r="1.35"/><circle cx="291.8" cy="328.6" r="1.35"/><circle cx="293.0" cy="338.7" r="1.35"/><circle cx="294.3" cy="324.2" r="1.35"/><circle cx="295.5" cy="327.9" r="1.35"/><circle cx="296.7" cy="312.8" r="1.35"/><circle cx="298.0" cy="331.6" r="1.35"/><circle cx="299.2" cy="328.8" r="1.35"/><circle cx="300.4" cy="321.4" r="1.35"/><circle cx="301.7" cy="324.3" r="1.35"/><circle cx="302.9" cy="343.6" r="1.35"/><circle cx="304.1" cy="347.6" r="1.35"/><circle cx="305.3" cy="329.1" r="1.35"/><circle cx="306.6" cy="342.6" r="1.35"/><circle cx="307.8" cy="335.2" r="1.35"/><circle cx="309.0" cy="328.9" r="1.35"/><circle cx="310.3" cy="347.2" r="1.35"/><circle cx="311.5" cy="350.6" r="1.35"/><circle cx="312.7" cy="333.1" r="1.35"/><circle cx="314.0" cy="334.7" r="1.35"/><circle cx="315.2" cy="336.8" r="1.35"/><circle cx="316.4" cy="334.7" r="1.35"/><circle cx="317.6" cy="341.3" r="1.35"/><circle cx="318.9" cy="346.0" r="1.35"/><circle cx="320.1" cy="336.1" r="1.35"/><circle cx="321.3" cy="342.0" r="1.35"/><circle cx="322.6" cy="346.9" r="1.35"/><circle cx="323.8" cy="331.1" r="1.35"/><circle cx="325.0" cy="335.3" r="1.35"/><circle cx="326.3" cy="331.8" r="1.35"/><circle cx="327.5" cy="342.1" r="1.35"/><circle cx="328.7" cy="339.6" r="1.35"/><circle cx="329.9" cy="342.1" r="1.35"/><circle cx="331.2" cy="341.2" r="1.35"/><circle cx="332.4" cy="333.3" r="1.35"/><circle cx="333.6" cy="340.4" r="1.35"/><circle cx="334.9" cy="332.0" r="1.35"/><circle cx="336.1" cy="332.1" r="1.35"/><circle cx="337.3" cy="319.7" r="1.35"/><circle cx="338.6" cy="344.9" r="1.35"/><circle cx="339.8" cy="312.5" r="1.35"/><circle cx="341.0" cy="335.2" r="1.35"/><circle cx="342.2" cy="334.7" r="1.35"/><circle cx="343.5" cy="345.2" r="1.35"/><circle cx="344.7" cy="337.9" r="1.35"/><circle cx="345.9" cy="329.0" r="1.35"/><circle cx="347.2" cy="320.9" r="1.35"/><circle cx="348.4" cy="333.9" r="1.35"/><circle cx="349.6" cy="336.6" r="1.35"/><circle cx="350.9" cy="325.9" r="1.35"/><circle cx="352.1" cy="334.6" r="1.35"/><circle cx="353.3" cy="350.6" r="1.35"/><circle cx="354.5" cy="339.5" r="1.35"/><circle cx="355.8" cy="348.8" r="1.35"/><circle cx="357.0" cy="358.3" r="1.35"/><circle cx="358.2" cy="338.2" r="1.35"/><circle cx="359.5" cy="324.5" r="1.35"/><circle cx="360.7" cy="333.9" r="1.35"/><circle cx="361.9" cy="342.9" r="1.35"/><circle cx="363.2" cy="341.1" r="1.35"/><circle cx="364.4" cy="325.9" r="1.35"/><circle cx="365.6" cy="333.0" r="1.35"/><circle cx="366.8" cy="333.8" r="1.35"/><circle cx="368.1" cy="325.1" r="1.35"/><circle cx="369.3" cy="333.8" r="1.35"/><circle cx="370.5" cy="328.1" r="1.35"/><circle cx="371.8" cy="330.0" r="1.35"/><circle cx="373.0" cy="332.4" r="1.35"/><circle cx="374.2" cy="341.7" r="1.35"/><circle cx="375.5" cy="330.2" r="1.35"/><circle cx="376.7" cy="339.0" r="1.35"/><circle cx="377.9" cy="325.8" r="1.35"/><circle cx="379.1" cy="343.2" r="1.35"/><circle cx="380.4" cy="334.8" r="1.35"/><circle cx="381.6" cy="333.8" r="1.35"/><circle cx="382.8" cy="343.5" r="1.35"/><circle cx="384.1" cy="321.0" r="1.35"/><circle cx="385.3" cy="322.9" r="1.35"/><circle cx="386.5" cy="337.0" r="1.35"/><circle cx="387.7" cy="327.9" r="1.35"/><circle cx="389.0" cy="330.7" r="1.35"/><circle cx="390.2" cy="352.7" r="1.35"/><circle cx="391.4" cy="331.5" r="1.35"/><circle cx="392.7" cy="324.5" r="1.35"/><circle cx="393.9" cy="332.6" r="1.35"/><circle cx="395.1" cy="341.1" r="1.35"/><circle cx="396.4" cy="335.0" r="1.35"/><circle cx="397.6" cy="334.3" r="1.35"/><circle cx="398.8" cy="324.2" r="1.35"/><circle cx="400.0" cy="330.4" r="1.35"/><circle cx="401.3" cy="332.8" r="1.35"/><circle cx="402.5" cy="321.4" r="1.35"/><circle cx="403.7" cy="336.7" r="1.35"/><circle cx="405.0" cy="335.4" r="1.35"/><circle cx="406.2" cy="345.8" r="1.35"/><circle cx="407.4" cy="320.8" r="1.35"/><circle cx="408.7" cy="325.2" r="1.35"/><circle cx="409.9" cy="325.5" r="1.35"/><circle cx="411.1" cy="340.6" r="1.35"/><circle cx="412.3" cy="331.4" r="1.35"/><circle cx="413.6" cy="330.5" r="1.35"/><circle cx="414.8" cy="333.9" r="1.35"/><circle cx="416.0" cy="320.3" r="1.35"/><circle cx="417.3" cy="331.6" r="1.35"/><circle cx="418.5" cy="320.9" r="1.35"/><circle cx="419.7" cy="327.9" r="1.35"/><circle cx="421.0" cy="332.5" r="1.35"/><circle cx="422.2" cy="336.4" r="1.35"/><circle cx="423.4" cy="336.9" r="1.35"/><circle cx="424.6" cy="320.6" r="1.35"/><circle cx="425.9" cy="328.9" r="1.35"/><circle cx="427.1" cy="332.3" r="1.35"/><circle cx="428.3" cy="335.6" r="1.35"/><circle cx="429.6" cy="341.4" r="1.35"/><circle cx="430.8" cy="334.0" r="1.35"/><circle cx="432.0" cy="327.3" r="1.35"/><circle cx="433.3" cy="336.8" r="1.35"/><circle cx="434.5" cy="335.8" r="1.35"/><circle cx="435.7" cy="336.0" r="1.35"/><circle cx="436.9" cy="333.8" r="1.35"/><circle cx="438.2" cy="346.6" r="1.35"/><circle cx="439.4" cy="336.8" r="1.35"/><circle cx="440.6" cy="341.7" r="1.35"/><circle cx="441.9" cy="329.1" r="1.35"/><circle cx="443.1" cy="341.7" r="1.35"/><circle cx="444.3" cy="332.1" r="1.35"/><circle cx="445.6" cy="325.5" r="1.35"/><circle cx="446.8" cy="339.5" r="1.35"/><circle cx="448.0" cy="342.0" r="1.35"/><circle cx="449.2" cy="337.2" r="1.35"/><circle cx="450.5" cy="338.9" r="1.35"/><circle cx="451.7" cy="344.6" r="1.35"/><circle cx="452.9" cy="339.0" r="1.35"/><circle cx="454.2" cy="332.9" r="1.35"/><circle cx="455.4" cy="345.0" r="1.35"/><circle cx="456.6" cy="346.1" r="1.35"/><circle cx="457.9" cy="351.4" r="1.35"/><circle cx="459.1" cy="346.4" r="1.35"/><circle cx="460.3" cy="355.3" r="1.35"/><circle cx="461.5" cy="356.2" r="1.35"/><circle cx="462.8" cy="346.4" r="1.35"/><circle cx="464.0" cy="358.2" r="1.35"/><circle cx="465.2" cy="350.1" r="1.35"/><circle cx="466.5" cy="349.2" r="1.35"/><circle cx="467.7" cy="356.2" r="1.35"/><circle cx="468.9" cy="355.9" r="1.35"/><circle cx="470.2" cy="350.3" r="1.35"/><circle cx="471.4" cy="361.5" r="1.35"/><circle cx="472.6" cy="364.4" r="1.35"/><circle cx="473.8" cy="369.0" r="1.35"/><circle cx="475.1" cy="363.4" r="1.35"/><circle cx="476.3" cy="357.7" r="1.35"/><circle cx="477.5" cy="361.1" r="1.35"/><circle cx="478.8" cy="371.0" r="1.35"/><circle cx="480.0" cy="371.4" r="1.35"/><circle cx="481.2" cy="370.4" r="1.35"/></g>
<polyline points="65.20,338.00 65.60,350.00 66.20,365.00 67.20,386.00 68.40,402.00 70.00,412.50 71.70,420.00 74.00,426.50 76.20,431.20 80.00,438.00 84.00,443.50 90.00,451.50 96.20,460.20 103.00,469.50 109.60,478.50 116.00,488.00 121.20,497.50 122.80,500.30 124.50,499.30 126.00,497.20 128.50,495.40 132.00,494.00 140.00,493.00 160.00,492.40 200.00,491.70 260.00,491.00 330.50,490.30 332.30,488.50 334.00,484.30 336.00,482.20 340.00,481.40 380.00,480.30 425.00,479.00 436.50,477.60 444.60,475.80 449.80,472.30 453.30,466.50 455.60,458.50 457.90,448.10 460.20,439.50 462.00,426.00 464.10,405.00 465.50,388.00 466.70,374.00 467.30,375.00 468.00,384.00 469.00,396.00 470.50,408.00 472.00,416.00 473.80,421.50 476.00,424.40 478.00,425.30 481.20,425.60" fill="none" stroke="#d95319" stroke-width="2.9" stroke-linejoin="round" stroke-linecap="round"/>
<line x1="49.00" y1="306.60" x2="66.40" y2="306.60" stroke="#d95319" stroke-width="3" stroke-linecap="butt"/>
<line x1="49.00" y1="535.40" x2="66.00" y2="535.40" stroke="#f01af0" stroke-width="3" stroke-linecap="round"/>
<line x1="64.30" y1="551.60" x2="332.20" y2="551.60" stroke="#f01af0" stroke-width="3" stroke-linecap="round"/>
<line x1="331.20" y1="535.40" x2="335.20" y2="535.40" stroke="#f01af0" stroke-width="3" stroke-linecap="round"/>
<line x1="333.80" y1="519.20" x2="468.00" y2="519.20" stroke="#f01af0" stroke-width="3" stroke-linecap="round"/>
<line x1="466.50" y1="535.40" x2="481.30" y2="535.40" stroke="#f01af0" stroke-width="3" stroke-linecap="round"/>
<line x1="49.00" y1="305.20" x2="481.30" y2="305.20" stroke="#333333" stroke-width="1.3"/>
<line x1="49.00" y1="511.00" x2="481.30" y2="511.00" stroke="#333333" stroke-width="1.3"/>
<line x1="49.00" y1="559.30" x2="481.30" y2="559.30" stroke="#333333" stroke-width="1.3"/>
<line x1="49.00" y1="511.00" x2="49.00" y2="559.30" stroke="#333333" stroke-width="1.3"/>
<line x1="481.30" y1="511.00" x2="481.30" y2="559.30" stroke="#333333" stroke-width="1.3"/>
<line x1="49.00" y1="305.20" x2="49.00" y2="511.00" stroke="#0072bd" stroke-width="1.2"/>
<line x1="481.30" y1="305.20" x2="481.30" y2="511.00" stroke="#b8704f" stroke-width="1.1"/>
<line x1="132.30" y1="305.20" x2="132.30" y2="309.20" stroke="#333333" stroke-width="1"/>
<line x1="132.30" y1="511.00" x2="132.30" y2="507.00" stroke="#333333" stroke-width="1"/>
<line x1="132.30" y1="511.00" x2="132.30" y2="515.00" stroke="#333333" stroke-width="1"/>
<line x1="132.30" y1="559.30" x2="132.30" y2="555.30" stroke="#333333" stroke-width="1"/>
<line x1="215.40" y1="305.20" x2="215.40" y2="309.20" stroke="#333333" stroke-width="1"/>
<line x1="215.40" y1="511.00" x2="215.40" y2="507.00" stroke="#333333" stroke-width="1"/>
<line x1="215.40" y1="511.00" x2="215.40" y2="515.00" stroke="#333333" stroke-width="1"/>
<line x1="215.40" y1="559.30" x2="215.40" y2="555.30" stroke="#333333" stroke-width="1"/>
<line x1="298.50" y1="305.20" x2="298.50" y2="309.20" stroke="#333333" stroke-width="1"/>
<line x1="298.50" y1="511.00" x2="298.50" y2="507.00" stroke="#333333" stroke-width="1"/>
<line x1="298.50" y1="511.00" x2="298.50" y2="515.00" stroke="#333333" stroke-width="1"/>
<line x1="298.50" y1="559.30" x2="298.50" y2="555.30" stroke="#333333" stroke-width="1"/>
<line x1="381.60" y1="305.20" x2="381.60" y2="309.20" stroke="#333333" stroke-width="1"/>
<line x1="381.60" y1="511.00" x2="381.60" y2="507.00" stroke="#333333" stroke-width="1"/>
<line x1="381.60" y1="511.00" x2="381.60" y2="515.00" stroke="#333333" stroke-width="1"/>
<line x1="381.60" y1="559.30" x2="381.60" y2="555.30" stroke="#333333" stroke-width="1"/>
<line x1="464.70" y1="305.20" x2="464.70" y2="309.20" stroke="#333333" stroke-width="1"/>
<line x1="464.70" y1="511.00" x2="464.70" y2="507.00" stroke="#333333" stroke-width="1"/>
<line x1="464.70" y1="511.00" x2="464.70" y2="515.00" stroke="#333333" stroke-width="1"/>
<line x1="464.70" y1="559.30" x2="464.70" y2="555.30" stroke="#333333" stroke-width="1"/>
<line x1="49.00" y1="499.30" x2="53.00" y2="499.30" stroke="#0072bd" stroke-width="1"/>
<line x1="49.00" y1="440.40" x2="53.00" y2="440.40" stroke="#0072bd" stroke-width="1"/>
<line x1="49.00" y1="381.50" x2="53.00" y2="381.50" stroke="#0072bd" stroke-width="1"/>
<line x1="49.00" y1="322.60" x2="53.00" y2="322.60" stroke="#0072bd" stroke-width="1"/>
<line x1="481.30" y1="442.40" x2="477.30" y2="442.40" stroke="#b8704f" stroke-width="1"/>
<line x1="481.30" y1="373.80" x2="477.30" y2="373.80" stroke="#b8704f" stroke-width="1"/>
<line x1="49.00" y1="519.20" x2="53.00" y2="519.20" stroke="#333333" stroke-width="1"/>
<line x1="481.30" y1="519.20" x2="477.30" y2="519.20" stroke="#333333" stroke-width="1"/>
<line x1="49.00" y1="535.40" x2="53.00" y2="535.40" stroke="#333333" stroke-width="1"/>
<line x1="481.30" y1="535.40" x2="477.30" y2="535.40" stroke="#333333" stroke-width="1"/>
<line x1="49.00" y1="551.60" x2="53.00" y2="551.60" stroke="#333333" stroke-width="1"/>
<line x1="481.30" y1="551.60" x2="477.30" y2="551.60" stroke="#333333" stroke-width="1"/>
<text x="44.00" y="503.60" font-size="12.5" fill="#2a80c0" font-family='"Liberation Serif", "Times New Roman", serif' stroke="#2a80c0" stroke-width="0.2" text-anchor="end">1</text>
<text x="44.00" y="444.70" font-size="12.5" fill="#2a80c0" font-family='"Liberation Serif", "Times New Roman", serif' stroke="#2a80c0" stroke-width="0.2" text-anchor="end">2</text>
<text x="44.00" y="385.80" font-size="12.5" fill="#2a80c0" font-family='"Liberation Serif", "Times New Roman", serif' stroke="#2a80c0" stroke-width="0.2" text-anchor="end">3</text>
<text x="44.00" y="326.90" font-size="12.5" fill="#2a80c0" font-family='"Liberation Serif", "Times New Roman", serif' stroke="#2a80c0" stroke-width="0.2" text-anchor="end">4</text>
<text x="44.50" y="523.50" font-size="12.5" fill="#1a1a1a" font-family='"Liberation Serif", "Times New Roman", serif' stroke="#1a1a1a" stroke-width="0.2" text-anchor="end">10</text>
<text x="44.50" y="539.70" font-size="12.5" fill="#1a1a1a" font-family='"Liberation Serif", "Times New Roman", serif' stroke="#1a1a1a" stroke-width="0.2" text-anchor="end">0</text>
<text x="44.50" y="555.90" font-size="12.5" fill="#1a1a1a" font-family='"Liberation Serif", "Times New Roman", serif' stroke="#1a1a1a" stroke-width="0.2" text-anchor="end">-10</text>
<text x="49.20" y="580.00" font-size="12" fill="#1a1a1a" font-family='"Liberation Sans", Arial, sans-serif' stroke="#1a1a1a" stroke-width="0.18" text-anchor="middle">0</text>
<text x="132.30" y="580.00" font-size="12" fill="#1a1a1a" font-family='"Liberation Sans", Arial, sans-serif' stroke="#1a1a1a" stroke-width="0.18" text-anchor="middle">5</text>
<text x="215.40" y="580.00" font-size="12" fill="#1a1a1a" font-family='"Liberation Sans", Arial, sans-serif' stroke="#1a1a1a" stroke-width="0.18" text-anchor="middle">10</text>
<text x="298.50" y="580.00" font-size="12" fill="#1a1a1a" font-family='"Liberation Sans", Arial, sans-serif' stroke="#1a1a1a" stroke-width="0.18" text-anchor="middle">15</text>
<text x="381.60" y="580.00" font-size="12" fill="#1a1a1a" font-family='"Liberation Sans", Arial, sans-serif' stroke="#1a1a1a" stroke-width="0.18" text-anchor="middle">20</text>
<text x="464.70" y="580.00" font-size="12" fill="#1a1a1a" font-family='"Liberation Sans", Arial, sans-serif' stroke="#1a1a1a" stroke-width="0.18" text-anchor="middle">25</text>
<text x="486.40" y="515.60" font-size="10.5" fill="#b06040" font-family='"Liberation Serif", "Times New Roman", serif' stroke="#b06040" stroke-width="0.2" text-anchor="start">0</text>
<text x="486.40" y="447.00" font-size="10.5" fill="#b06040" font-family='"Liberation Serif", "Times New Roman", serif' stroke="#b06040" stroke-width="0.2" text-anchor="start">1</text>
<text x="486.40" y="378.40" font-size="10.5" fill="#b06040" font-family='"Liberation Serif", "Times New Roman", serif' stroke="#b06040" stroke-width="0.2" text-anchor="start">2</text>
<text x="486.40" y="309.80" font-size="10.5" fill="#b06040" font-family='"Liberation Serif", "Times New Roman", serif' stroke="#b06040" stroke-width="0.2" text-anchor="start">3</text>
<text x="229.20" y="598.50" font-size="14" fill="#222" font-family='"Liberation Serif", "Times New Roman", serif' stroke="#222" stroke-width="0.12" textLength="75.4" lengthAdjust="spacingAndGlyphs">time (hrs)</text>
<text x="27.30" y="539.00" font-size="15.5" fill="#2a80c0" font-family='"Liberation Serif", "Times New Roman", serif' stroke="#2a80c0" stroke-width="0.12" textLength="235" lengthAdjust="spacingAndGlyphs" transform="rotate(-90 27.30 539.00)">THz energy norm. (arb. units)</text>
<text x="508.00" y="417.00" font-size="14.5" fill="#d0652a" font-family='"Liberation Serif", "Times New Roman", serif' stroke="#d0652a" stroke-width="0.1" textLength="97" lengthAdjust="spacingAndGlyphs" transform="rotate(-90 508.00 417.00)">voltage (V)</text>
<text x="509.5" y="570.8" font-size="14.5" fill="#f01af0" font-family='"Liberation Serif", "Times New Roman", serif' stroke="#f01af0" stroke-width="0.1" transform="rotate(-90 509.5 570.8)" textLength="99" lengthAdjust="spacingAndGlyphs">current (<tspan font-style="italic">μ</tspan>A)</text>
<text x="102.70" y="404.80" font-size="12.5" fill="#1a1a1a" font-family='"Liberation Sans", Arial, sans-serif' stroke="#1a1a1a" stroke-width="0.33" textLength="83.8" lengthAdjust="spacingAndGlyphs">SEI formation</text>
<text x="193.00" y="454.40" font-size="12.5" fill="#1a1a1a" font-family='"Liberation Sans", Arial, sans-serif' stroke="#1a1a1a" stroke-width="0.33" textLength="91.5" lengthAdjust="spacingAndGlyphs">SEI + Lithiation</text>
<text x="353.80" y="453.30" font-size="12.5" fill="#1a1a1a" font-family='"Liberation Sans", Arial, sans-serif' stroke="#1a1a1a" stroke-width="0.33" textLength="72.4" lengthAdjust="spacingAndGlyphs">Delithiation</text>
<text x="358.50" y="392.60" font-size="12.5" fill="#1a1a1a" font-family='"Liberation Sans", Arial, sans-serif' stroke="#1a1a1a" stroke-width="0.33" textLength="83" lengthAdjust="spacingAndGlyphs">Delithiation +</text>
<text x="355.70" y="411.10" font-size="12.5" fill="#1a1a1a" font-family='"Liberation Sans", Arial, sans-serif' stroke="#1a1a1a" stroke-width="0.33" textLength="89.3" lengthAdjust="spacingAndGlyphs">SEI dissolution</text>
<path d="M120.5,482 Q120.5,471.5 128.5,471.5 H218.3 Q226.3,471.5 226.3,460.5 Q226.3,471.5 234.3,471.5 H323.5 Q331.5,471.5 331.5,482" fill="none" stroke="#111" stroke-width="1.9"/>
<path d="M334,478.5 Q334,466.8 342,466.8 H380.3 Q388.3,466.8 388.3,458.5 Q388.3,466.8 396.3,466.8 H434.5 Q442.5,466.8 442.5,478.5" fill="none" stroke="#111" stroke-width="1.9"/>
<line x1="132.10" y1="411.90" x2="94.00" y2="439.00" stroke="#111" stroke-width="1.9"/>
<polygon points="91.20,441.00 95.00,433.20 100.20,439.80" fill="#111"/>
<line x1="424.00" y1="412.90" x2="453.00" y2="430.30" stroke="#111" stroke-width="1.9"/>
<polygon points="456.30,432.30 451.40,425.20 447.20,432.50" fill="#111"/>
</svg></body></html>
